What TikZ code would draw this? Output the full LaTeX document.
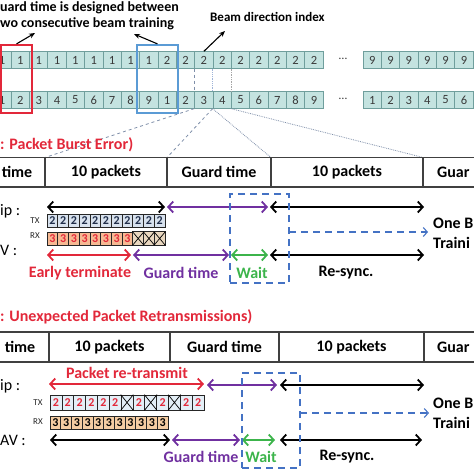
\documentclass[tikz,border=0pt]{standalone}
\usepackage{fontspec}
\setmainfont{Carlito}
\usetikzlibrary{arrows.meta}
\definecolor{cellfill}{HTML}{C4E3E0}
\definecolor{cellline}{HTML}{6F9E9C}
\definecolor{celltext}{HTML}{3A3A3A}
\definecolor{myred}{HTML}{E2283A}
\definecolor{frameblue}{HTML}{5B9BD5}
\definecolor{mypurple}{HTML}{7030A0}
\definecolor{mygreen}{HTML}{3CB44B}
\definecolor{dashblue}{HTML}{4472C4}
\definecolor{txfill}{HTML}{D8E2EE}
\definecolor{txtext}{HTML}{1F2D4A}
\definecolor{rxfill}{HTML}{F6B993}
\definecolor{xfill}{HTML}{EAD8C0}
\definecolor{txbfill}{HTML}{E4EFF7}
\definecolor{rxbfill}{HTML}{F5CDA3}
\definecolor{guide}{HTML}{7F8FA9}
\definecolor{guidelight}{HTML}{9FB4D8}
\definecolor{linegray}{HTML}{404040}
\begin{document}
\begin{tikzpicture}[x=1pt,y=-1pt,
  cell/.style={draw=cellline,fill=cellfill,line width=0.8pt,minimum width=18.35pt,minimum height=16.5pt,inner sep=0pt,text=celltext,font=\fontsize{12.5pt}{12.5pt}\selectfont},
  lbl/.style={font=\bfseries\fontsize{16pt}{16pt}\selectfont,inner sep=0pt},
  hdr/.style={font=\bfseries\fontsize{14pt}{14pt}\selectfont,inner sep=0pt,anchor=west},
  small/.style={font=\fontsize{9pt}{9pt}\selectfont,inner sep=0pt,text=black!85},
  pk/.style={draw=black!85,line width=0.7pt,minimum width=10.73pt,minimum height=13pt,inner sep=0pt,font=\bfseries\fontsize{12pt}{12pt}\selectfont},
  txa/.style={pk,fill=txfill,text=txtext},
  rxa/.style={pk,fill=rxfill,text=myred},
  txb/.style={pk,fill=txbfill,text=myred,minimum width=11.85pt,minimum height=15pt},
  rxb/.style={pk,fill=rxbfill,text=black},
  dbl/.style={line width=1.8pt,{Straight Barb[length=5pt,width=11pt]}-{Straight Barb[length=5pt,width=11pt]}},
  annot/.style={line width=1.1pt,-{Stealth[length=6pt,width=5pt]}},
  dashbox/.style={draw=dashblue,line width=2pt,dash pattern=on 7pt off 5pt,inner sep=0pt},
  dasharrow/.style={draw=dashblue,line width=1.1pt,dash pattern=on 7pt off 5pt,-{Straight Barb[length=4pt,width=9pt]}},
  tline/.style={draw=linegray,line width=1.2pt},
  xmark/.style={line width=0.7pt,draw=black}
]
\useasboundingbox (0,0) rectangle (474,474);

% ---------- top annotation texts
\node[hdr] (h1) at (0,8) {uard time is designed between};
\node[hdr] (h2) at (0,24) {wo consecutive beam training};
\node[hdr,font=\bfseries\fontsize{13pt}{13pt}\selectfont] (h3) at (210,17) {Beam direction index};

% ---------- beam rows
\foreach \v [count=\i from 0] in {1,1,1,1,1,1,1,1,1,2,2,2,2,2,2,2,2,2}
  \node[cell] (ra\i) at ({2+18.35*\i},60) {\v};
\foreach \v [count=\i from 0] in {1,2,3,4,5,6,7,8,9,1,2,3,4,5,6,7,8,9}
  \node[cell] (rb\i) at ({2+18.35*\i},100) {\v};
\foreach \v [count=\i from 0] in {9,9,9,9,9,9}
  \node[cell] (rc\i) at ({372.2+18.35*\i},60) {\v};
\foreach \v [count=\i from 0] in {1,2,3,4,5,6}
  \node[cell] (rd\i) at ({372.2+18.35*\i},100) {\v};
\node[inner sep=0pt,text=celltext,font=\fontsize{12pt}{12pt}\selectfont] (el1) at (343,59) {…};
\node[inner sep=0pt,text=celltext,font=\fontsize{12pt}{12pt}\selectfont] (el2) at (343,99) {…};

% guides between rows
\draw[guide,line width=0.8pt,dashed] (ra11.south west) -- (rb11.north west);
\draw[guidelight,line width=0.8pt,densely dotted] (ra12.south west) -- (rb12.north west);
\draw[gray!70,line width=0.7pt,densely dotted] (ra13.south west) -- (rb13.north west);

% frames
\node[draw=myred,line width=2.2pt,minimum width=30.5pt,minimum height=68pt,inner sep=0pt] (redbox) at (16.5,79) {};
\node[draw=frameblue,line width=2.2pt,minimum width=41pt,minimum height=68pt,inner sep=0pt] (bluebox) at (157.5,79) {};
\coordinate (redtip) at (35,33);
\coordinate (bluetip) at (134,34);
\coordinate (beamtip) at (225,31);
\draw[annot] (redbox.north) -- (redtip);
\draw[annot] (bluebox.north) -- (bluetip);
\draw[annot] (ra11.north) -- (beamtip);

% ---------- timeline 1
\coordinate (t1d1) at (45,157.5);
\coordinate (t1d2) at (167,157.5);
\coordinate (t1d3) at (271,157.5);
\coordinate (t1d4) at (423,157.5);
\draw[guide,line width=0.8pt,dashed] (rb11.south west) -- (t1d1);
\draw[guide,line width=0.8pt,dashed] (rb12.south west) -- (t1d2);
\draw[guide,line width=0.8pt,densely dotted] (rb12.south west) -- (t1d3);
\draw[guide,line width=0.8pt,densely dotted] (rb13.south west) -- (t1d4);

\node[lbl,text=myred,anchor=west] (sec1) at (0,145) {: Packet Burst Error)};
\draw[tline] (0,157.5) -- (474,157.5) (0,187) -- (474,187);
\foreach \x in {45,167,271,423} \draw[tline] (\x,157.5) -- (\x,187);
\node[lbl] (t1a) at (17,172) {time};
\node[lbl] (t1b) at (106,172) {10 packets};
\node[lbl] (t1c) at (219,172) {Guard time};
\node[lbl] (t1e) at (347,172) {10 packets};
\node[lbl,anchor=west] (t1f) at (437,172) {Guar};

% section 1 body
\node[lbl,anchor=west,font=\fontsize{16pt}{16pt}\selectfont] (c1) at (0,211) {ip :};
\node[lbl,anchor=west,font=\fontsize{16pt}{16pt}\selectfont] (v1) at (0,250) {V :};
\node[small] (tx1l) at (35,221) {TX};
\node[small] (rx1l) at (35,236) {RX};
\foreach \v [count=\i from 0] in {2,2,2,2,2,2,2,2,2,2,2}
  \node[txa] (ta\i) at ({47+10.73*\i+5.365},220.5) {\v};
\foreach \v [count=\i from 0] in {3,3,3,3,3,3,3,3,{},{},{}}
  \node[rxa] (xa\i) at ({47+10.73*\i+5.365},238.5) {\v};
\foreach \i in {8,9,10} {
  \fill[xfill] (xa\i.north west) rectangle (xa\i.south east);
  \draw[black!85,line width=0.7pt] (xa\i.north west) rectangle (xa\i.south east);
  \draw[xmark] (xa\i.north west) -- (xa\i.south east) (xa\i.north east) -- (xa\i.south west);
}
\coordinate (p1a) at (47,207);  \coordinate (p1b) at (165,207);
\coordinate (p1c) at (167,207); \coordinate (p1d) at (268,207);
\coordinate (p1e) at (270,207); \coordinate (p1f) at (424,207);
\draw[dbl,black] (p1a) -- (p1b);
\draw[dbl,mypurple] (p1c) -- (p1d);
\draw[dbl,black] (p1e) -- (p1f);
\coordinate (q1a) at (47,255);  \coordinate (q1b) at (131,255);
\coordinate (q1c) at (133,255); \coordinate (q1d) at (229,255);
\coordinate (q1e) at (231,255); \coordinate (q1f) at (268,255);
\coordinate (q1g) at (270,255); \coordinate (q1h) at (424,255);
\draw[dbl,myred] (q1a) -- (q1b);
\draw[dbl,mypurple] (q1c) -- (q1d);
\draw[dbl,mygreen] (q1e) -- (q1f);
\draw[dbl,black] (q1g) -- (q1h);
\node[lbl,text=myred] (l1a) at (80,273) {Early terminate};
\node[lbl,text=mypurple] (l1b) at (181,273) {Guard time};
\node[lbl,text=mygreen] (l1c) at (252,273) {Wait};
\node[lbl] (l1d) at (346,273) {Re-sync.};
\node[dashbox,minimum width=59pt,minimum height=89pt] (wb1) at (259.5,238.5) {};
\coordinate (da1s) at (289,232);
\coordinate (da1e) at (428,232);
\draw[dasharrow] (da1s) -- (da1e);
\node[lbl,anchor=west] (ob1) at (433,223) {One B};
\node[lbl,anchor=west] (tr1) at (433,243) {Traini};

% ---------- section 2
\node[lbl,text=myred,anchor=west] (sec2) at (0,317) {: Unexpected Packet Retransmissions)};
\draw[tline] (0,332) -- (474,332) (0,362) -- (474,362);
\foreach \x in {49,170,279,424} \draw[tline] (\x,332) -- (\x,362);
\node[lbl] (t2a) at (20,347) {time};
\node[lbl] (t2b) at (109.5,347) {10 packets};
\node[lbl] (t2c) at (224.5,347) {Guard time};
\node[lbl] (t2e) at (351.5,347) {10 packets};
\node[lbl,anchor=west] (t2f) at (437,347) {Guar};

\node[lbl,anchor=west,font=\fontsize{16pt}{16pt}\selectfont] (c2) at (0,386) {ip :};
\node[lbl,anchor=west,font=\fontsize{16pt}{16pt}\selectfont] (v2) at (0,440) {AV :};
\node[small] (tx2l) at (38,403) {TX};
\node[small] (rx2l) at (38,422) {RX};
\foreach \v [count=\i from 0] in {2,2,2,2,2,2,{},2,{},2,{},2,2}
  \node[txb] (tb\i) at ({50+11.85*\i+5.925},402.5) {\v};
\foreach \i in {6,8,10}
  \draw[xmark] (tb\i.north west) -- (tb\i.south east) (tb\i.north east) -- (tb\i.south west);
\foreach \v [count=\i from 0] in {3,3,3,3,3,3,3,3,3,3,3}
  \node[rxb] (xb\i) at ({50+10.73*\i+5.365},422.5) {\v};

\node[lbl,text=myred] (l2p) at (127,373) {Packet re-transmit};
\coordinate (p2a) at (49,384);  \coordinate (p2b) at (204,384);
\coordinate (p2c) at (207,385); \coordinate (p2d) at (277,385);
\coordinate (p2e) at (280,385); \coordinate (p2f) at (424,385);
\draw[dbl,myred] (p2a) -- (p2b);
\draw[dbl,mypurple] (p2c) -- (p2d);
\draw[dbl,black] (p2e) -- (p2f);
\coordinate (q2a) at (50,440);  \coordinate (q2b) at (170,440);
\coordinate (q2c) at (172,440); \coordinate (q2d) at (240,440);
\coordinate (q2e) at (242,440); \coordinate (q2f) at (275,440);
\coordinate (q2g) at (280,440); \coordinate (q2h) at (422,440);
\draw[dbl,black] (q2a) -- (q2b);
\draw[dbl,mypurple] (q2c) -- (q2d);
\draw[dbl,mygreen] (q2e) -- (q2f);
\draw[dbl,black] (q2g) -- (q2h);
\node[lbl,text=mypurple] (l2b) at (201,457) {Guard time};
\node[lbl,text=mygreen] (l2c) at (261,457) {Wait};
\node[lbl] (l2d) at (347,457) {Re-sync.};
\node[dashbox,minimum width=58pt,minimum height=95pt] (wb2) at (271,420.5) {};
\coordinate (da2s) at (300,413);
\coordinate (da2e) at (429,413);
\draw[dasharrow] (da2s) -- (da2e);
\node[lbl,anchor=west] (ob2) at (433,403) {One B};
\node[lbl,anchor=west] (tr2) at (433,423) {Traini};
\end{tikzpicture}
\end{document}
